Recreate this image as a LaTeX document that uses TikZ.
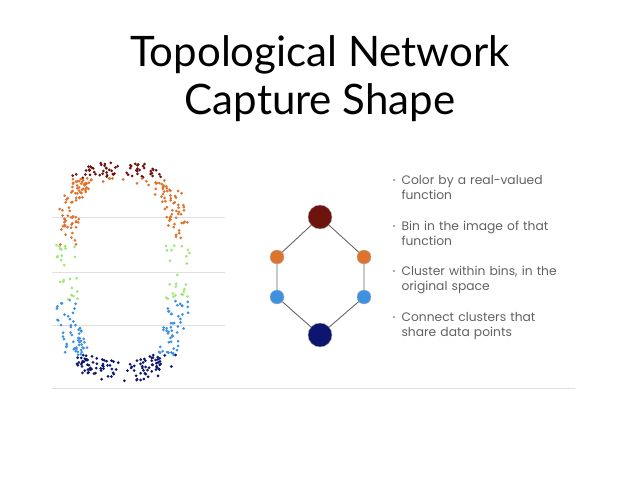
\documentclass[tikz,border=0pt]{standalone}
\usepackage{fontspec}
\setmainfont{Lato}
\newfontfamily\bulfont{Poppins}
\begin{document}
\begin{tikzpicture}[x=1pt,y=1pt,
  edge/.style={draw=gray!80!black,line width=0.9pt},
  dot/.style={circle,inner sep=0pt,draw=gray!60},
  bul/.style={anchor=north west,align=left,text width=200pt,font=\bulfont\fontsize{12.3}{15}\selectfont,text=black!62},
  bline/.style={draw=black!12,line width=0.6pt}]
\definecolor{c0}{RGB}{110,20,15}
\definecolor{c1}{RGB}{222,115,45}
\definecolor{c2}{RGB}{155,232,115}
\definecolor{c3}{RGB}{60,145,225}
\definecolor{c4}{RGB}{12,22,110}
\useasboundingbox (0,0) rectangle (638,-479);
\node (t1) at (320,-55) {\fontsize{42}{46}\selectfont Topological Network};
\node (t2) at (320,-103) {\fontsize{42}{46}\selectfont Capture Shape};
% bin lines
\draw[bline] (52,-217) -- (225,-217);
\draw[bline] (52,-272) -- (225,-272);
\draw[bline] (52,-325) -- (225,-325);
\draw[bline] (52,-388) -- (575,-388);
% scatter
\pgfmathsetseed{11}
\foreach \i in {1,...,480}{
  \pgfmathsetmacro\t{rnd*360}
  \pgfmathsetmacro\cc{cos(\t)}
  \pgfmathsetmacro\ss{sin(\t)}
  \pgfmathsetmacro\px{122+(56+12*rand)*sign(\cc)*abs(\cc)^0.6}
  \pgfmathsetmacro\py{271+(99+11*rand)*sign(\ss)*abs(\ss)^0.6}
  \pgfmathtruncatemacro\band{\py<178?0:(\py<245?1:(\py<300?2:(\py<355?3:4)))}
  \fill[c\band] (\px,-\py) circle (1.5);
}
% graph
\node[dot,fill=c0,minimum size=24pt] (top) at (320,-217) {};
\node[dot,fill=c1,minimum size=14pt] (ol) at (277,-257) {};
\node[dot,fill=c1,minimum size=14pt] (or) at (364,-257) {};
\node[dot,fill=c3,minimum size=14pt] (bl) at (277,-297) {};
\node[dot,fill=c3,minimum size=14pt] (br) at (364,-297) {};
\node[dot,fill=c4,minimum size=24pt] (bot) at (320,-335) {};
\draw[edge] (top) -- (ol) -- (bl) -- (bot) -- (br) -- (or) -- (top);
% bullets
\foreach \y/\s [count=\k] in {172/{Color by a real-valued\\function},218/{Bin in the image of that\\function},263/{Cluster within bins, in the\\original space},309/{Connect clusters that\\share data points}}{
  \node[bul] (b\k) at (398,-\y) {\s};
  \fill[black!45] (394,-\y-8) circle (1.1);
}
\end{tikzpicture}
\end{document}
